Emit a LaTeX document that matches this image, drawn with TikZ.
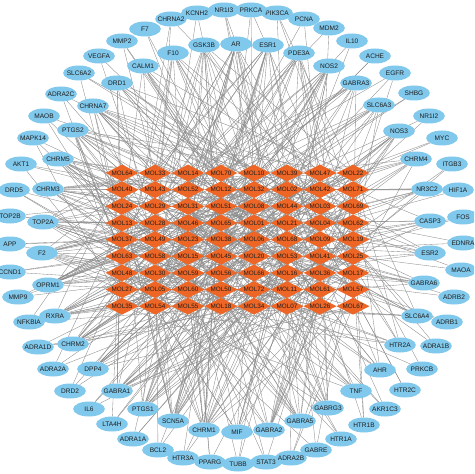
\documentclass[tikz,border=0pt]{standalone}
\usepackage{fontspec}
\setmainfont{Liberation Sans}
\usetikzlibrary{shapes.geometric,backgrounds}
\definecolor{tblue}{RGB}{128,200,236}
\definecolor{morange}{RGB}{238,102,38}
\definecolor{edgegray}{RGB}{140,140,140}
\definecolor{labeltxt}{RGB}{30,30,30}
\tikzset{
  target/.style={ellipse, fill=tblue, minimum width=9.5mm, minimum height=4.5mm, inner sep=0pt},
  tlabel/.style={font=\fontsize{5.6}{6}\selectfont, text=labeltxt, inner sep=0pt},
  mol/.style={diamond, fill=morange, minimum width=9.9mm, minimum height=5.1mm, inner sep=0pt},
  mollabel/.style={font=\fontsize{5.4}{6}\selectfont, text=labeltxt, inner sep=0pt},
  edge/.style={draw=edgegray, line width=0.3pt},
}
\def\targets{%
NR1I3/224/10/3, KCNH2/197/13/2, CHRNA2/171/19/3, F7/145/29/2, MMP2/122/41/3, VEGFA/99/56/2,
SLC6A2/79/73/3, ADRA2C/61/94/3, MAOB/44/116/3, MAPK14/33/138/3, AKT1/21/164/3, DRD5/14/190/3,
TOP2B/10/216/3, APP/10/244/3, CCND1/10/272/3, MMP9/18/297/3, NFKBIA/29/322/3, ADRA1D/38/347/3,
ADRA2A/53/369/3, DRD2/70/391/3, IL6/89/409/3, LTA4H/112/424/3, ADRA1A/133/439/3, BCL2/158/450/3,
HTR3A/183/458/3, PPARG/210/462/3, TUBB/238/464/3, STAT3/266/462/3, ADRA2B/291/458/3, GABRE/316/450/3,
HTR1A/341/439/3, HTR1B/364/425/3, AKR1C3/385/409/3, HTR2C/405/390/2, PRKCB/422/369/2, ADRA1B/436/346/2,
ADRB1/447/322/2, ADRB2/454/297/2, MAOA/461/270/2, EDNRA/463/243/2, FOS/463/217/2, HIF1A/458/190/2,
ITGB3/452/164/2, MYC/442/138/2, NR1I2/429/116/2, SHBG/414/93/2, EGFR/395/73/3, ACHE/375/56/2,
IL10/352/41/2, MDM2/329/28/2, PCNA/304/19/2, PIK3CA/277/13/3, PRKCA/251/10/3,
AR/236/44/14, GSK3B/204/45/12, F10/173/53/10, CALM1/143/66/8, DRD1/117/83/10, CHRNA7/93/106/14,
PTGS2/73/130/16, CHRM5/58/159/14, CHRM3/48/189/16, TOP2A/43/222/16, F2/42/253/16, OPRM1/48/285/16,
RXRA/55/316/14, CHRM2/73/344/14, DPP4/93/369/12, GABRA1/117/391/16, PTGS1/143/409/14, SCN5A/173/421/16,
CHRM1/204/430/18, MIF/237/432/9, GABRA2/269/430/12, GABRA5/300/421/10, GABRG3/328/408/9, TNF/356/391/6,
AHR/380/370/6, HTR2A/400/345/7, SLC6A4/417/316/8, GABRA6/424/283/8, ESR2/430/253/7, CASP3/430/221/7,
NR3C2/427/189/8, CHRM4/416/159/8, NOS3/399/131/9, SLC6A3/379/105/9, GABRA3/356/83/10, NOS2/329/66/12,
PDE3A/299/53/12, ESR1/268/45/14}
\begin{document}
\begin{tikzpicture}[x=0.3mm, y=-0.3mm]
\useasboundingbox (0,0) rectangle (474,474);
\clip (0,0) rectangle (474,474);
% molecules grid
\foreach \lbl [count=\i from 0] in {64,33,14,70,10,39,47,22,
  40,43,52,12,32,02,42,71,
  24,29,31,51,08,44,03,69,
  13,28,46,65,01,21,04,62,
  37,49,23,38,06,68,09,19,
  63,58,15,45,20,53,41,25,
  48,30,59,56,66,16,36,17,
  27,05,60,50,72,11,61,57,
  35,54,55,18,34,07,26,67}{
  \pgfmathtruncatemacro\cc{mod(\i,8)}
  \pgfmathtruncatemacro\rr{div(\i,8)}
  \node[mol] (m\i) at ({122+33*\cc},{173+16.65*\rr}) {};
  \node[mollabel] at (m\i) {MOL\lbl};
}
% targets
\foreach \n/\x/\y/\d in \targets {
  \node[target] (\n) at (\x,\y) {};
  \node[tlabel] at (\n) {\n};
}
% edges
\pgfmathsetseed{2718}
\begin{pgfonlayer}{background}
\fill[white] (0,0) rectangle (474,474);
\foreach \n/\x/\y/\d in \targets {
  \foreach \k in {1,...,\d} {
    \pgfmathrandominteger{\rq}{0}{71}
    \draw[edge] (\n) -- (m\rq);
  }
}
\end{pgfonlayer}
\end{tikzpicture}
\end{document}
